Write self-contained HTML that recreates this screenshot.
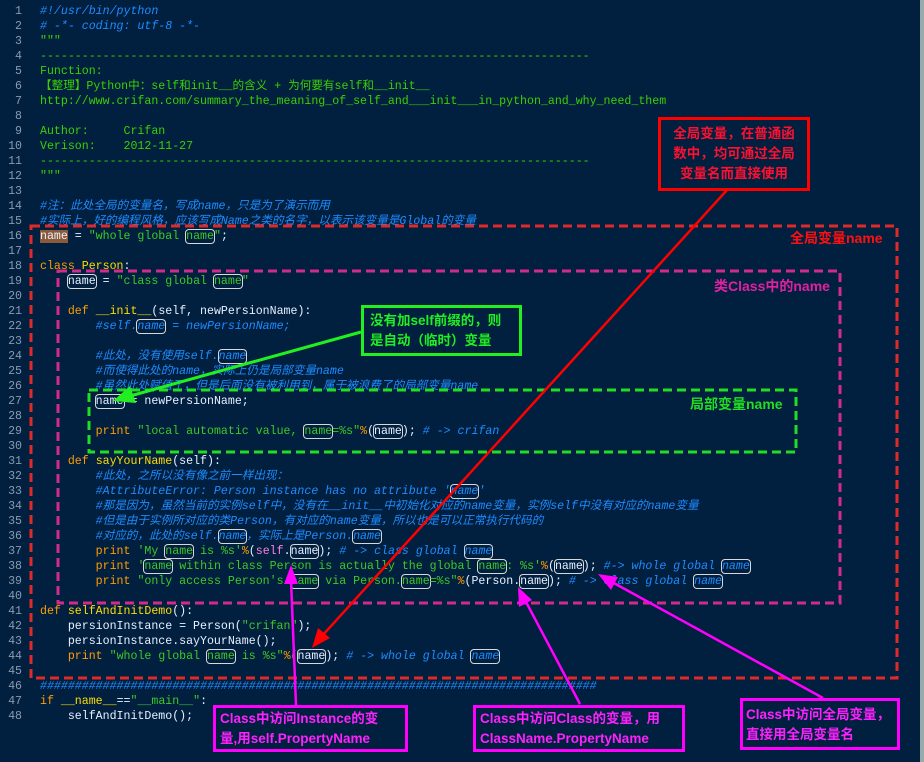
<!DOCTYPE html>
<html><head><meta charset="utf-8"><style>
body{margin:0;background:#fff;}
#w{position:relative;width:924px;height:762px;background:#012040;overflow:hidden;border-right:4px solid #9aa;box-sizing:border-box}
.l{position:absolute;left:0;height:15px;line-height:15px;white-space:pre;font-family:"Liberation Mono","Noto Sans CJK SC",monospace;font-size:11.6px;color:#e8f0ff}
.ln{position:absolute;left:0;width:22px;text-align:right;color:#8a9bb0}
.t{position:absolute;left:40px}
.c{color:#1e8cff;font-style:italic}
.s{color:#3fc826}
.k{color:#ff9d00}
.h{color:#3ad000}
.n{box-shadow:0 0 0 1px #d8d8d8;border-radius:3px}
.b{background:#8a5a3a}
.box{position:absolute;font-family:"Liberation Sans","Noto Sans CJK SC",sans-serif;font-weight:bold;font-size:14px;line-height:20px;box-sizing:border-box;white-space:nowrap}
</style></head><body><div id="w">
<div class="l" style="top:4px"><span class="ln">1</span><span class="t c">#!/usr/bin/python</span></div>
<div class="l" style="top:19px"><span class="ln">2</span><span class="t c"># -*- coding: utf-8 -*-</span></div>
<div class="l" style="top:34px"><span class="ln">3</span><span class="t h">"""</span></div>
<div class="l" style="top:49px"><span class="ln">4</span><span class="t h">-------------------------------------------------------------------------------</span></div>
<div class="l" style="top:64px"><span class="ln">5</span><span class="t h">Function:</span></div>
<div class="l" style="top:79px"><span class="ln">6</span><span class="t h">【整理】Python中：self和init__的含义 + 为何要有self和__init__</span></div>
<div class="l" style="top:94px"><span class="ln">7</span><span class="t h">http://www.crifan.com/summary_the_meaning_of_self_and___init___in_python_and_why_need_them</span></div>
<div class="l" style="top:109px"><span class="ln">8</span></div>
<div class="l" style="top:124px"><span class="ln">9</span><span class="t h">Author:     Crifan</span></div>
<div class="l" style="top:139px"><span class="ln">10</span><span class="t h">Verison:    2012-11-27</span></div>
<div class="l" style="top:154px"><span class="ln">11</span><span class="t h">-------------------------------------------------------------------------------</span></div>
<div class="l" style="top:169px"><span class="ln">12</span><span class="t h">"""</span></div>
<div class="l" style="top:184px"><span class="ln">13</span></div>
<div class="l" style="top:199px"><span class="ln">14</span><span class="t c">#注：此处全局的变量名，写成name，只是为了演示而用</span></div>
<div class="l" style="top:214px"><span class="ln">15</span><span class="t c">#实际上，好的编程风格，应该写成Name之类的名字，以表示该变量是Global的变量</span></div>
<div class="l" style="top:229px"><span class="ln">16</span><span class="t"><span class="b">name</span> = <span class="s">"whole global <span class="n">name</span>"</span>;</span></div>
<div class="l" style="top:244px"><span class="ln">17</span></div>
<div class="l" style="top:259px"><span class="ln">18</span><span class="t"><span class="k">class</span> <span style="color:#ffdd00">Person</span>:</span></div>
<div class="l" style="top:274px"><span class="ln">19</span><span class="t">    <span class="n">name</span> = <span class="s">"class global <span class="n">name</span>"</span></span></div>
<div class="l" style="top:289px"><span class="ln">20</span></div>
<div class="l" style="top:304px"><span class="ln">21</span><span class="t">    <span class="k">def</span> <span style="color:#ffdd00">__init__</span>(self, newPersionName):</span></div>
<div class="l" style="top:319px"><span class="ln">22</span><span class="t c">        #self.<span class="n">name</span> = newPersionName;</span></div>
<div class="l" style="top:334px"><span class="ln">23</span></div>
<div class="l" style="top:349px"><span class="ln">24</span><span class="t c">        #此处，没有使用self.<span class="n">name</span></span></div>
<div class="l" style="top:364px"><span class="ln">25</span><span class="t c">        #而使得此处的name，实际上仍是局部变量name</span></div>
<div class="l" style="top:379px"><span class="ln">26</span><span class="t c">        #虽然此处赋值了，但是后面没有被利用到，属于被浪费了的局部变量name</span></div>
<div class="l" style="top:394px"><span class="ln">27</span><span class="t">        <span class="n">name</span> = newPersionName;</span></div>
<div class="l" style="top:409px"><span class="ln">28</span></div>
<div class="l" style="top:424px"><span class="ln">29</span><span class="t">        <span class="k">print</span> <span class="s">"local automatic value, <span class="n">name</span>=%s"</span><span class="k">%</span>(<span class="n">name</span>); <span class="c"># -&gt; crifan</span></span></div>
<div class="l" style="top:439px"><span class="ln">30</span></div>
<div class="l" style="top:454px"><span class="ln">31</span><span class="t">    <span class="k">def</span> <span style="color:#ffdd00">sayYourName</span>(self):</span></div>
<div class="l" style="top:469px"><span class="ln">32</span><span class="t c">        #此处，之所以没有像之前一样出现：</span></div>
<div class="l" style="top:484px"><span class="ln">33</span><span class="t c">        #AttributeError: Person instance has no attribute '<span class="n">name</span>'</span></div>
<div class="l" style="top:499px"><span class="ln">34</span><span class="t c">        #那是因为，虽然当前的实例self中，没有在__init__中初始化对应的name变量，实例self中没有对应的name变量</span></div>
<div class="l" style="top:514px"><span class="ln">35</span><span class="t c">        #但是由于实例所对应的类Person，有对应的name变量，所以也是可以正常执行代码的</span></div>
<div class="l" style="top:529px"><span class="ln">36</span><span class="t c">        #对应的，此处的self.<span class="n">name</span>，实际上是Person.<span class="n">name</span></span></div>
<div class="l" style="top:544px"><span class="ln">37</span><span class="t">        <span class="k">print</span> <span class="s">'My <span class="n">name</span> is %s'</span><span class="k">%</span>(<span style="color:#ff80e0">self</span>.<span class="n">name</span>); <span class="c"># -&gt; class global <span class="n">name</span></span></span></div>
<div class="l" style="top:559px"><span class="ln">38</span><span class="t">        <span class="k">print</span> <span class="s">'<span class="n">name</span> within class Person is actually the global <span class="n">name</span>: %s'</span><span class="k">%</span>(<span class="n">name</span>); <span class="c">#-&gt; whole global <span class="n">name</span></span></span></div>
<div class="l" style="top:574px"><span class="ln">39</span><span class="t">        <span class="k">print</span> <span class="s">"only access Person's <span class="n">name</span> via Person.<span class="n">name</span>=%s"</span><span class="k">%</span>(Person.<span class="n">name</span>); <span class="c"># -&gt; class global <span class="n">name</span></span></span></div>
<div class="l" style="top:589px"><span class="ln">40</span></div>
<div class="l" style="top:604px"><span class="ln">41</span><span class="t"><span class="k">def</span> <span style="color:#ffdd00">selfAndInitDemo</span>():</span></div>
<div class="l" style="top:619px"><span class="ln">42</span><span class="t">    persionInstance = Person(<span class="s">"crifan"</span>);</span></div>
<div class="l" style="top:634px"><span class="ln">43</span><span class="t">    persionInstance.sayYourName();</span></div>
<div class="l" style="top:649px"><span class="ln">44</span><span class="t">    <span class="k">print</span> <span class="s">"whole global <span class="n">name</span> is %s"</span><span class="k">%</span>(<span class="n">name</span>); <span class="c"># -&gt; whole global <span class="n">name</span></span></span></div>
<div class="l" style="top:664px"><span class="ln">45</span></div>
<div class="l" style="top:679px"><span class="ln">46</span><span class="t c">################################################################################</span></div>
<div class="l" style="top:694px"><span class="ln">47</span><span class="t"><span class="k">if</span> <span style="color:#ffdd00">__name__</span>==<span class="s">"__main__"</span>:</span></div>
<div class="l" style="top:709px"><span class="ln">48</span><span class="t">    selfAndInitDemo();</span></div>

<svg width="924" height="762" style="position:absolute;left:0;top:0">
<rect x="31" y="226" width="866" height="452" fill="none" stroke="#e02a2a" stroke-width="3" stroke-dasharray="9 5"/>
<rect x="58" y="271" width="782" height="332" fill="none" stroke="#d42a8a" stroke-width="3" stroke-dasharray="9 5"/>
<rect x="89" y="390" width="707" height="62" fill="none" stroke="#22dd22" stroke-width="3" stroke-dasharray="9 5"/>
<line x1="727" y1="190" x2="322" y2="636" stroke="#ff0000" stroke-width="2.5"/>
<polygon points="312,648 318,628 330,638" fill="#ff0000"/>
<line x1="361" y1="332" x2="130" y2="396" stroke="#22ee22" stroke-width="3"/>
<polygon points="113,401 130,386 136,403" fill="#22ee22"/>
<line x1="296" y1="705" x2="291" y2="580" stroke="#ff00ff" stroke-width="2.5"/>
<polygon points="291,565 284,584 298,584" fill="#ff00ff"/>
<line x1="580" y1="704" x2="525" y2="600" stroke="#ff00ff" stroke-width="2.5"/>
<polygon points="518,587 519,607 532,600" fill="#ff00ff"/>
<line x1="823" y1="698" x2="612" y2="582" stroke="#ff00ff" stroke-width="2.5"/>
<polygon points="598,574 611,590 618,577" fill="#ff00ff"/>
</svg>

<div class="box" style="left:790px;top:228px;color:#ff1010;font-size:14px">全局变量name</div>
<div class="box" style="left:714px;top:276px;color:#e020a0;font-size:14px">类Class中的name</div>
<div class="box" style="left:690px;top:394px;color:#22dd22;font-size:14px">局部变量name</div>
<div class="box" style="left:658px;top:117px;width:152px;height:74px;border:3px solid #ff0000;color:#ff1030;text-align:center;padding-top:4px;background:#012040;font-size:13.5px">全局变量，在普通函<br>数中，均可通过全局<br>变量名而直接使用</div>
<div class="box" style="left:361px;top:305px;width:161px;height:51px;border:3px solid #22ee22;color:#22ee22;padding:3px 0 0 6px;background:#012040;font-size:13.5px">没有加self前缀的，则<br>是自动（临时）变量</div>
<div class="box" style="left:213px;top:705px;width:195px;height:47px;border:3px solid #ff00ff;color:#ff20ff;padding:1px 0 0 4px;background:#012040;font-size:13.5px">Class中访问Instance的变<br>量,用self.PropertyName</div>
<div class="box" style="left:473px;top:705px;width:212px;height:47px;border:3px solid #ff00ff;color:#ff20ff;padding:1px 0 0 4px;background:#012040;font-size:13.5px">Class中访问Class的变量，用<br>ClassName.PropertyName</div>
<div class="box" style="left:740px;top:698px;width:160px;height:52px;border:3px solid #ff00ff;color:#ff20ff;padding:4px 0 0 3px;background:#012040;font-size:13.5px">Class中访问全局变量，<br>直接用全局变量名</div>
</div></body></html>
